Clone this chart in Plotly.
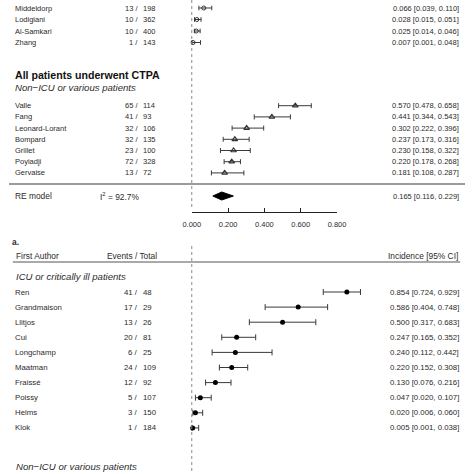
import plotly.graph_objects as go

# ---------------- data ----------------
top_names = ["Middeldorp", "Lodigiani", "Al-Samkari", "Zhang"]
top_events = [13, 10, 10, 1]
top_totals = [198, 362, 400, 143]
top_est = [0.066, 0.028, 0.025, 0.007]
top_lo = [0.039, 0.015, 0.014, 0.001]
top_hi = [0.110, 0.051, 0.046, 0.048]

ctpa_names = ["Valle", "Fang", "Leonard-Lorant", "Bompard", "Grillet", "Poyiadji", "Gervaise"]
ctpa_events = [65, 41, 32, 32, 23, 72, 13]
ctpa_totals = [114, 93, 106, 135, 100, 328, 72]
ctpa_est = [0.570, 0.441, 0.302, 0.237, 0.230, 0.220, 0.181]
ctpa_lo = [0.478, 0.344, 0.222, 0.173, 0.158, 0.178, 0.108]
ctpa_hi = [0.658, 0.543, 0.396, 0.316, 0.322, 0.268, 0.287]

re_est, re_lo, re_hi = 0.165, 0.116, 0.229
re_i2 = "92.7%"

icu_names = ["Ren", "Grandmaison", "Llitjos", "Cui", "Longchamp", "Maatman", "Fraissé", "Poissy", "Helms", "Klok"]
icu_events = [41, 17, 13, 20, 6, 24, 12, 5, 3, 1]
icu_totals = [48, 29, 26, 81, 25, 109, 92, 107, 150, 184]
icu_est = [0.854, 0.586, 0.500, 0.247, 0.240, 0.220, 0.130, 0.047, 0.020, 0.005]
icu_lo = [0.724, 0.404, 0.317, 0.165, 0.112, 0.152, 0.076, 0.020, 0.006, 0.001]
icu_hi = [0.929, 0.748, 0.683, 0.352, 0.442, 0.308, 0.216, 0.107, 0.060, 0.038]

tick_vals = [0.0, 0.2, 0.4, 0.6, 0.8]
tick_text = ["0.000", "0.200", "0.400", "0.600", "0.800"]

# ---------------- layout constants (pixel rows) ----------------
W = H = 474
PX0, PX8 = 190.0, 341.0           # pixel of 0.000 and 0.800
SCALE = (PX8 - PX0) / 0.8
X0, X1 = -PX0 / SCALE, (W - PX0) / SCALE

TOP_START, TOP_STEP = 8.0, 11.5
CTPA_START, CTPA_STEP = 105.7, 11.2
RE_Y = 196.0
AXIS_Y = 212.0
ICU_START, ICU_STEP = 292.0, 15.1

FONT = "Liberation Sans, Arial, sans-serif"
TXT = "#2b2b2b"
NBSP = "\u00a0"

top_y = [TOP_START + i * TOP_STEP for i in range(len(top_names))]
ctpa_y = [CTPA_START + i * CTPA_STEP for i in range(len(ctpa_names))]
icu_y = [ICU_START + i * ICU_STEP for i in range(len(icu_names))]

fig = go.Figure()


def add_rows(est, lo, hi, ys, symbol, size, color, lw, cap):
    fig.add_trace(go.Scatter(
        x=est, y=ys, mode="markers",
        marker=dict(symbol=symbol, size=size, color=color,
                    line=dict(color=color, width=lw)),
        error_x=dict(type="data", symmetric=False,
                     array=[h - e for h, e in zip(hi, est)],
                     arrayminus=[e - l for e, l in zip(est, lo)],
                     color="#3a3a3a", thickness=1, width=cap),
        hoverinfo="skip", xaxis="x", yaxis="y"))


add_rows(top_est, top_lo, top_hi, top_y, "circle-open", 4, "#333333", 1, 2.3)
add_rows(ctpa_est, ctpa_lo, ctpa_hi, ctpa_y, "triangle-up-open", 5, "#333333", 1.2, 2.5)
add_rows(icu_est, icu_lo, icu_hi, icu_y, "circle", 5, "#000000", 0, 3)

# RE model diamond (on the visible tick axis)
half_h = 4.0
fig.add_trace(go.Scatter(
    x=[re_lo, re_est, re_hi, re_est, re_lo],
    y=[RE_Y, RE_Y - half_h, RE_Y, RE_Y + half_h, RE_Y],
    mode="lines", fill="toself", fillcolor="#000000",
    line=dict(color="#000000", width=1), hoverinfo="skip",
    xaxis="x2", yaxis="y"))

annotations = []


def txt(x, y, s, size=7.5, anchor="left", **kw):
    annotations.append(dict(xref="paper", yref="y", x=x / W, y=y, text=s,
                            showarrow=False, xanchor=anchor, yanchor="middle",
                            font=dict(family=FONT, size=size, color=kw.get("color", TXT))))


def study_rows(names, events, totals, est, lo, hi, ys, size=7.5):
    for n, ev, tot, e, l, h, y in zip(names, events, totals, est, lo, hi, ys):
        txt(4, y, n, size)
        txt(136, y, f"{ev}{NBSP}/", size, anchor="right")
        txt(137, y, f"{tot}", size, anchor="left")
        txt(470, y, f"{e:.3f} [{l:.3f}, {h:.3f}]", size, anchor="right")


study_rows(top_names, top_events, top_totals, top_est, top_lo, top_hi, top_y)
txt(4, 74.5, "<b>All patients underwent CTPA</b>", 10.6, color="#111111")
txt(4, 87.5, "<i>Non\u2212ICU or various patients</i>", 9.6)
study_rows(ctpa_names, ctpa_events, ctpa_totals, ctpa_est, ctpa_lo, ctpa_hi, ctpa_y)

txt(4, RE_Y, "RE model", 8.4)
txt(93, RE_Y, f"I<sup>2</sup> = {re_i2}", 8.4)
txt(470, RE_Y, f"{re_est:.3f} [{re_lo:.3f}, {re_hi:.3f}]", 7.5, anchor="right")

txt(1, 241.5, "<b>a.</b>", 8.4)
txt(5, 255.5, "First Author", 8.4)
txt(100, 255.5, "Events / Total", 8.4)
txt(469, 255.5, "Incidence [95% CI]", 8.4, anchor="right")
txt(5, 276.5, "<i>ICU or critically ill patients</i>", 9.6)
study_rows(icu_names, icu_events, icu_totals, icu_est, icu_lo, icu_hi, icu_y, 7.8)
txt(5, 466.5, "<i>Non\u2212ICU or various patients</i>", 9.6)

shapes = [
    dict(type="line", xref="x", yref="y", x0=0, x1=0, y0=0, y1=207,
         line=dict(color="#8a8a8a", width=1, dash="dot")),
    dict(type="line", xref="x", yref="y", x0=0, x1=0, y0=246, y1=H,
         line=dict(color="#8a8a8a", width=1, dash="dot")),
    dict(type="line", xref="paper", yref="y", x0=0, x1=1, y0=184, y1=184,
         line=dict(color="#7a7a7a", width=1.6)),
    dict(type="line", xref="paper", yref="y", x0=4 / W, x1=469 / W, y0=262, y1=262,
         line=dict(color="#555555", width=1)),
]

fig.update_layout(
    width=W, height=H, margin=dict(l=0, r=0, t=0, b=0),
    paper_bgcolor="white", plot_bgcolor="rgba(0,0,0,0)", showlegend=False,
    xaxis=dict(range=[X0, X1], domain=[0, 1], visible=False, fixedrange=True),
    yaxis=dict(range=[H, 0], domain=[0, 1], visible=False, fixedrange=True),
    xaxis2=dict(domain=[PX0 / W, PX8 / W], range=[0, 0.8],
                anchor="free", position=1 - AXIS_Y / H, side="bottom",
                showline=True, linecolor="#222222", linewidth=1,
                ticks="inside", ticklen=4, tickwidth=1, tickcolor="#222222",
                tickvals=tick_vals, ticktext=tick_text, ticklabelstandoff=5,
                tickfont=dict(family=FONT, size=7.5, color=TXT),
                showgrid=False, zeroline=False, fixedrange=True),
    annotations=annotations, shapes=shapes,
)

fig.write_html("out.html")
